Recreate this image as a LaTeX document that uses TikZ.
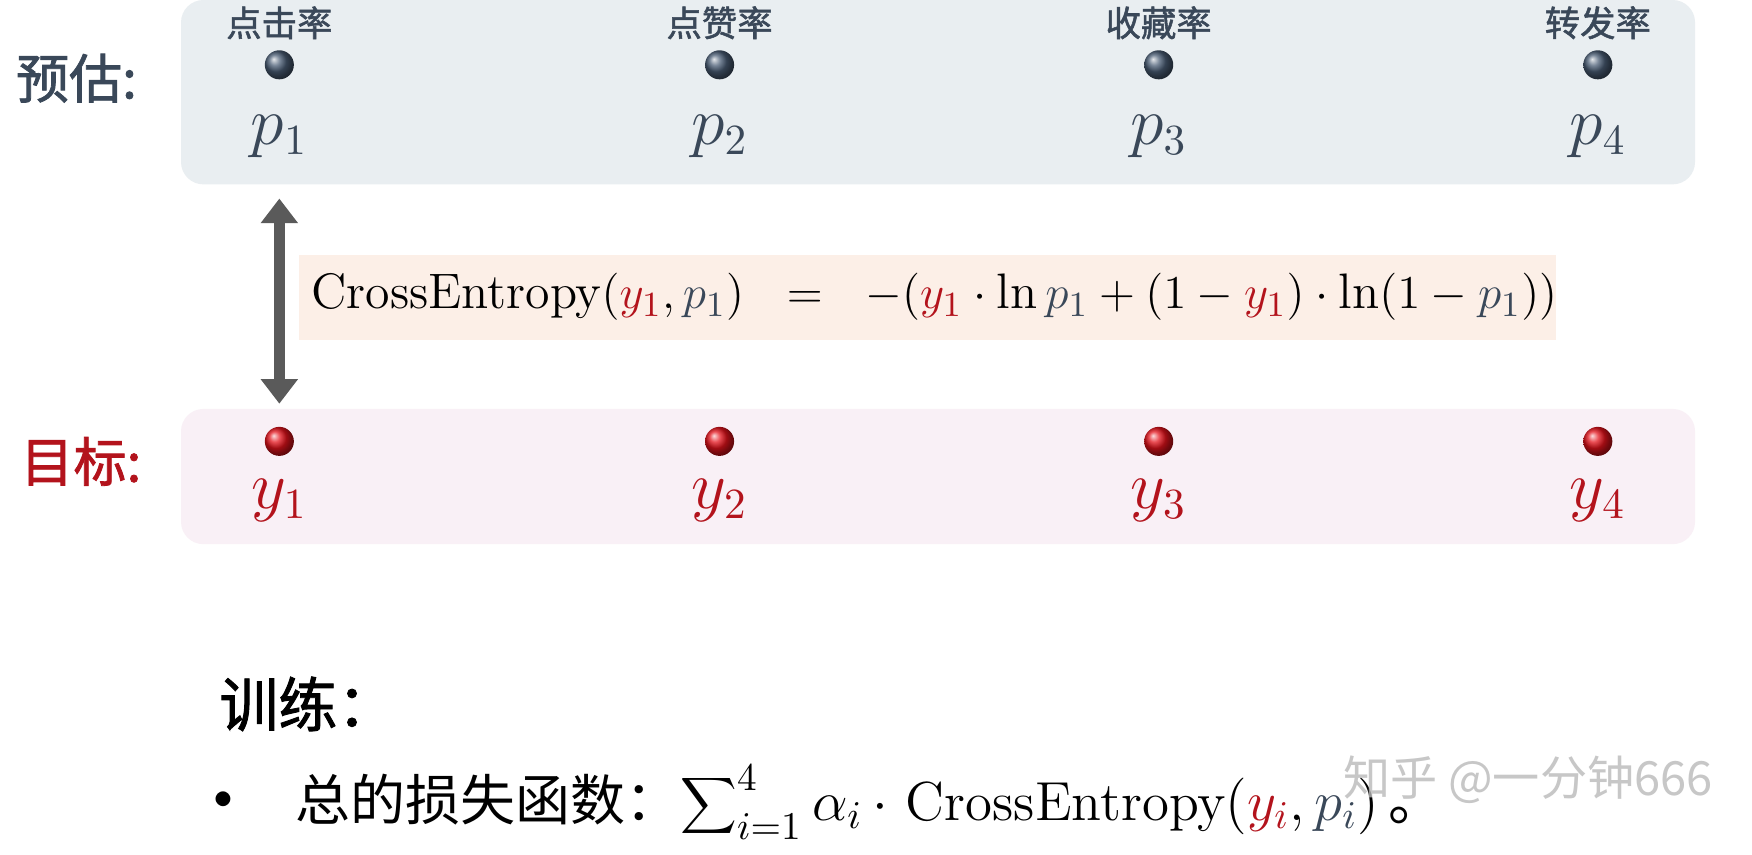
\documentclass[tikz,border=0pt]{standalone}
\usepackage{fontspec}
\usepackage{tikz}
\usetikzlibrary{positioning}
\usetikzlibrary{arrows.meta}
\newfontfamily\cjk[AutoFakeBold=1.5]{Noto Sans CJK SC}
\definecolor{slate}{HTML}{3A4859}
\definecolor{dotslate}{HTML}{4A5D75}
\definecolor{targred}{HTML}{B3131C}
\definecolor{dotred}{HTML}{E3121B}
\definecolor{predfill}{HTML}{E9EEF1}
\definecolor{targfill}{HTML}{F9F0F6}
\definecolor{formfill}{HTML}{FCEFE7}
\definecolor{arrgray}{HTML}{5A5A5A}
\newcommand{\ry}[1]{\textcolor{targred}{y_{#1}}}
\newcommand{\rp}[1]{\textcolor{slate}{p_{#1}}}

\begin{document}
\begin{tikzpicture}[
  panel/.style = {rounded corners=0.2cm, minimum width=13.55cm, inner sep=0},
  pdot/.style = {circle, inner sep=0, minimum size=0.26cm, ball color=dotslate},
  ydot/.style = {circle, inner sep=0, minimum size=0.26cm, ball color=dotred},
  rate/.style = {font=\cjk\bfseries\fontsize{9}{10}\selectfont, text=slate, inner sep=1pt},
  pval/.style = {font=\fontsize{16}{18}\selectfont, text=slate},
  yval/.style = {font=\fontsize{16}{18}\selectfont, text=targred},
  side/.style = {font=\cjk\bfseries\fontsize{13.5}{15}\selectfont, anchor=west},
  dblarrow/.style = {line width=0.1cm, draw=arrgray,
    {Triangle[width=0.32cm,length=0.22cm]}-{Triangle[width=0.32cm,length=0.22cm]}}
]
\fill[white] (0,0) rectangle (15.68,-7.65);
\useasboundingbox (0,0) rectangle (15.68,-7.65);

% panels
\node[panel, fill=predfill, minimum height=1.65cm] (predbox) at (8.395,-0.825) {};
\node[panel, fill=targfill, minimum height=1.21cm] (ybox) at (8.395,-4.265) {};
\node[side, text=slate] (predlab) at (0.02,-0.70) {预估:};
\node[side, text=targred] (ylab) at (0.06,-4.13) {目标:};

% four targets
\foreach \i/\x/\name in {1/2.50/点击率, 2/6.44/点赞率, 3/10.37/收藏率, 4/14.30/转发率} {
  \node[pdot] (pd\i) at (\x,-0.58) {};
  \node[rate, above=0.05cm of pd\i] (rate\i) {\name};
  \node[pval] (p\i) at (\x,-1.22) {$p_\i$};
  \node[ydot] (yd\i) at (\x,-3.95) {};
  \node[yval] (y\i) at (\x,-4.48) {$y_\i$};
}

\draw[dblarrow] ([yshift=-0.12cm]predbox.south -| pd1) -- ([yshift=0.04cm]ybox.north -| pd1);

\node[fill=formfill, anchor=west, minimum height=0.76cm, text width=11.03cm, align=left,
  inner xsep=0.11cm, inner ysep=0, font=\fontsize{12.7}{14}\selectfont] (ce) at (2.67,-2.66)
  {\mbox{CrossEntropy$(\ry1,\rp1)\ \;=\ \;-(\ry1\cdot\ln\rp1+(1-\ry1)\cdot\ln(1-\rp1))$}};

% training
\node[anchor=west, font=\cjk\bfseries\fontsize{15}{17}\selectfont] (train) at (1.84,-6.30) {训练：};
\node[font=\fontsize{14}{16}\selectfont] (bul) at (2.00,-7.18) {\textbullet};
\node[anchor=west, font=\fontsize{14}{16}\selectfont] (loss) at (2.52,-7.18)
  {{\cjk 总的损失函数：}$\displaystyle\sum\nolimits_{i=1}^{4}\alpha_i\,\cdot$ CrossEntropy$(\ry{i},\rp{i})$\,{\cjk 。}};
\node[anchor=west, text=gray!55, opacity=0.8, font=\cjk\fontsize{12}{14}\selectfont] (wm) at (11.90,-6.98) {知乎 @一分钟666};
\end{tikzpicture}
\end{document}
